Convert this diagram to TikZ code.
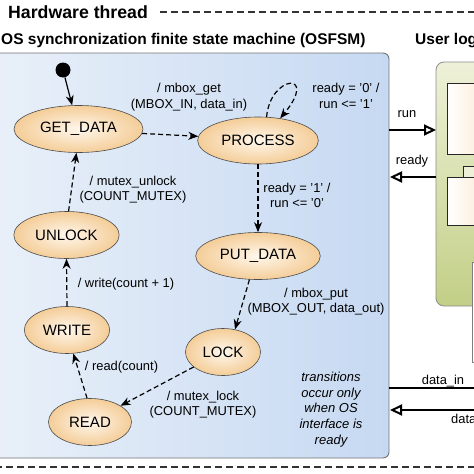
\documentclass[tikz,border=0pt]{standalone}
\usepackage{fontspec}
\setmainfont{Liberation Sans}
\usetikzlibrary{arrows.meta,shapes.geometric}
\definecolor{panelL}{HTML}{E9F0F9}
\definecolor{panelR}{HTML}{C6D9F2}
\definecolor{stateL}{HTML}{FFF7EC}
\definecolor{stateR}{HTML}{F4CD98}
\definecolor{greenT}{HTML}{EEF1D8}
\definecolor{greenB}{HTML}{C2CF86}
\definecolor{boxR}{HTML}{FCE6CC}
\begin{document}
\begin{tikzpicture}[x=1pt,y=-1pt,
    state/.style={ellipse, draw=black!70, line width=0.6pt, inner color=stateL, outer color=stateR,
      minimum width=78pt, minimum height=47pt, inner xsep=6pt, font=\fontsize{15}{18}\selectfont},
    trans/.style={dash pattern=on 5pt off 3pt, line width=1.2pt, -{Stealth[length=10pt,width=8pt]}},
    lbl/.style={align=center, inner sep=0pt, font=\fontsize{12.9}{15.5}\selectfont},
    sig/.style={line width=2.2pt, -{Triangle[open,length=12pt,width=11pt,line width=2pt]}},
    frame/.style={draw=black!80, line width=1.4pt, dash pattern=on 7pt off 4pt}]
  \useasboundingbox (0,0) rectangle (474,474);
  \clip (0,0) rectangle (474,474);

  % titles
  \node[anchor=base west, inner sep=0pt, font=\bfseries\fontsize{17.7}{20}\selectfont] (T) at (8,18) {Hardware thread};
  \draw[frame] (160,12) -- (480,12);
  \draw[frame] (-5,467) -- (480,467);
  \node[anchor=base west, inner sep=0pt, font=\bfseries\fontsize{15.5}{18}\selectfont] (O) at (1,44) {OS synchronization finite state machine (OSFSM)};
  \node[anchor=base west, inner sep=0pt, font=\bfseries\fontsize{15.5}{18}\selectfont] (U) at (415,44) {User logic};

  % panels
  \draw[draw=black!55, line width=0.9pt, rounded corners=6pt, left color=panelL, right color=panelR] (-10,53) rectangle (389,458);
  \draw[draw=black!45, line width=0.8pt, rounded corners=8pt, top color=greenT, bottom color=greenB] (436,62) rectangle (495,306);
  \draw[draw=black!85, line width=0.8pt, left color=white, right color=boxR] (447,83) rectangle (495,154);
  \draw[draw=black!85, line width=0.8pt, fill=greenT] (463,166) rectangle (495,177);
  \draw[draw=black!85, line width=0.8pt, left color=white, right color=boxR] (447,177) rectangle (495,225);
  \draw[draw=black!50, line width=0.8pt, fill=white] (472,262) rectangle (495,362);

  % states
  \node[circle, fill=black, minimum size=15pt, inner sep=0pt] (S) at (63,70) {};
  \node[state, minimum width=129pt] (GD) at (78.5,129) {GET\_DATA};
  \node[state, minimum width=118pt] (PR) at (258,140.5) {PROCESS};
  \node[state, minimum width=118pt] (PD) at (258,256) {PUT\_DATA};
  \node[state, minimum width=105pt] (UL) at (66.5,235) {UNLOCK};
  \node[state, minimum width=82pt] (WR) at (67,330) {WRITE};
  \node[state, minimum width=75pt] (LK) at (223,352) {LOCK};
  \node[state, minimum width=83pt] (RD) at (90,422) {READ};

  % transitions
  \draw[line width=1.2pt, -{Stealth[length=10pt,width=8pt]}] (S) -- (GD.105);
  \draw[trans] (GD.-4) -- (PR.176);
  \draw[trans] (PR.70) .. controls +(4,-43) and +(39,-47) .. (PR.45);
  \draw[trans] (PR.south) -- (PD.north);
  \draw[trans] (PD.-110) -- (LK.62);
  \draw[trans] (LK.207) -- (RD.28);
  \draw[trans] (RD.97) -- (WR.-75);
  \draw[trans] (WR.north) -- (UL.south);
  \draw[trans] (UL.85) -- (GD.-95);

  \node[lbl] (l1) at (189,97) {/ mbox\_get\\(MBOX\_IN, data\_in)};
  \node[lbl] (l2) at (346,96) {ready = '0' /\\run <= '1'};
  \node[lbl] (l3) at (297,195.5) {ready = '1' /\\run <= '0'};
  \node[lbl] (l4) at (316,301.5) {/ mbox\_put\\(MBOX\_OUT, data\_out)};
  \node[lbl] (l5) at (203,404.5) {/ mutex\_lock\\(COUNT\_MUTEX)};
  \node[lbl] (l6) at (121.5,367) {/ read(count)};
  \node[lbl] (l7) at (126,284) {/ write(count + 1)};
  \node[lbl] (l8) at (133,189.5) {/ mutex\_unlock\\(COUNT\_MUTEX)};
  \node[align=center, inner sep=0pt, font=\itshape\fontsize{13}{15.6}\selectfont] (N) at (331,409.5) {transitions\\occur only\\when OS\\interface is\\ready};

  % interface signals
  \coordinate (runA) at (389,130);
  \coordinate (runB) at (436,130);
  \coordinate (rdyA) at (436,177);
  \coordinate (rdyB) at (390,177);
  \coordinate (dinA) at (389,388);
  \coordinate (dinB) at (510,388);
  \coordinate (doA) at (500,410);
  \coordinate (doB) at (390,410);
  \draw[sig] (runA) -- (runB);
  \draw[sig] (rdyA) -- (rdyB);
  \draw[sig] (dinA) -- (dinB);
  \draw[sig] (doA) -- (doB);
  \node[lbl] (r1) at (407,114) {run};
  \node[lbl] (r2) at (412,161) {ready};
  \node[lbl] (r3) at (443,381) {data\_in};
  \node[lbl, anchor=west] (r4) at (451,420) {data\_out};
\end{tikzpicture}
\end{document}
